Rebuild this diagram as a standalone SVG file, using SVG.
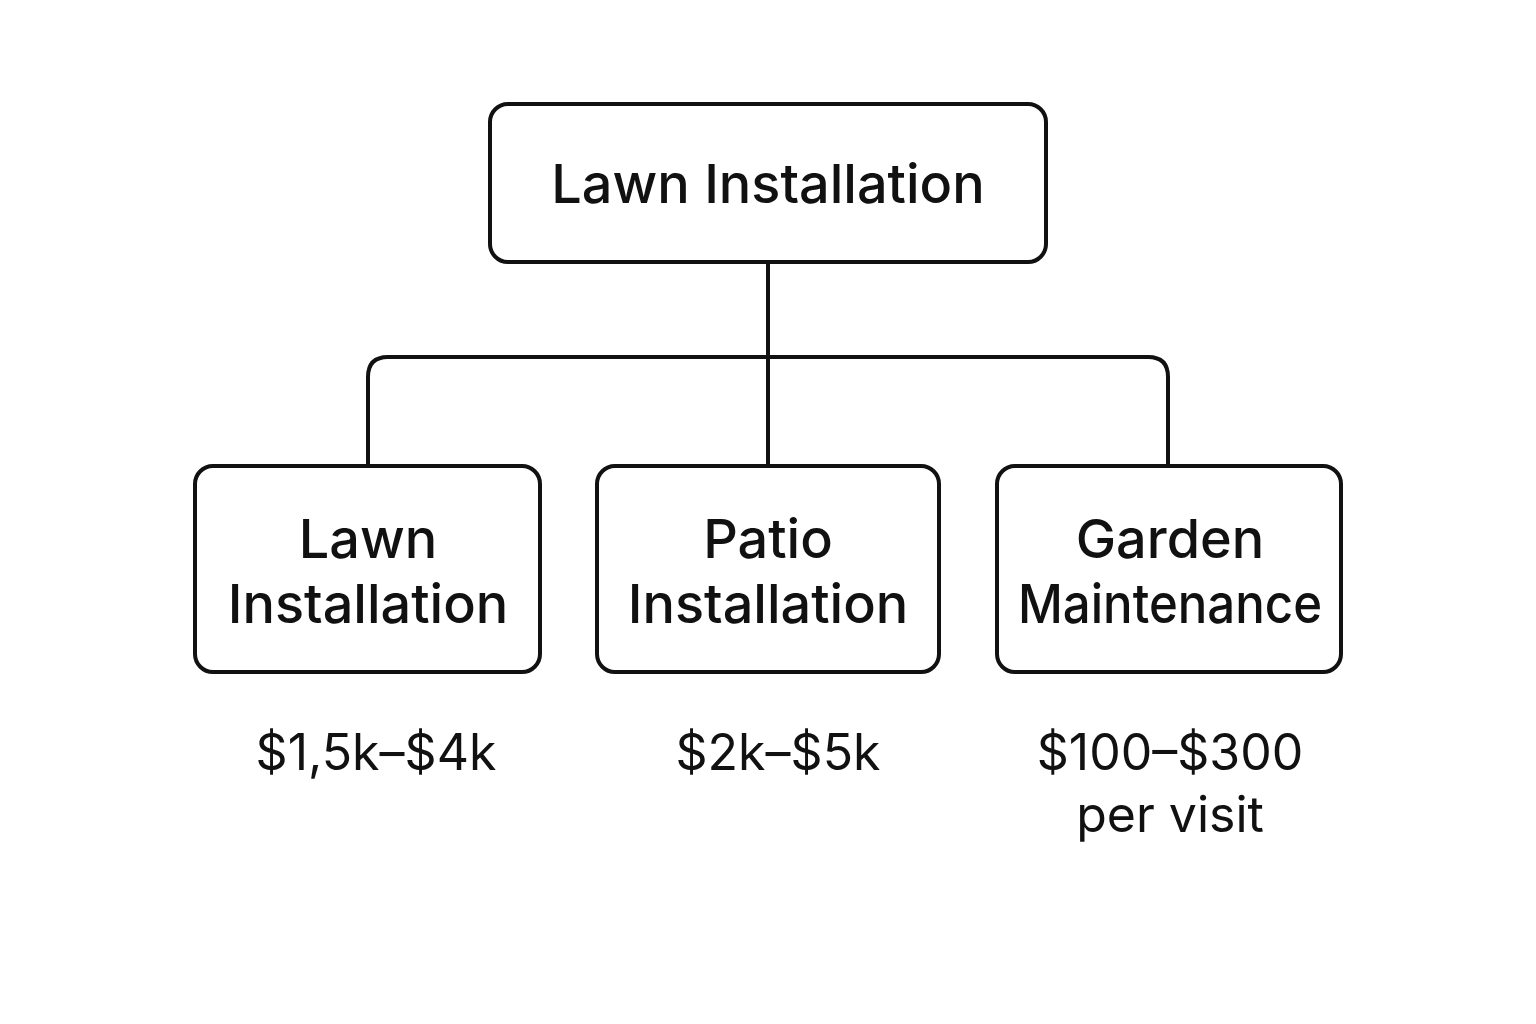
<svg xmlns="http://www.w3.org/2000/svg" width="1536" height="1024" viewBox="0 0 1536 1024">
<style>
.box{fill:#fff;stroke:#111;stroke-width:4}
.t{font-family:Inter,"Liberation Sans",sans-serif;fill:#111;text-anchor:middle}
.n{font-size:54px;font-weight:500}
.p{font-size:50px}
.c{fill:none;stroke:#111;stroke-width:4}
</style>
<rect width="1536" height="1024" fill="#fff"/>
<g id="connectors">
<path class="c" d="M768 262V465M368 465V377Q368 357 388 357H1148Q1168 357 1168 377V465"/>
</g>
<g id="root"><rect class="box" x="490" y="104" width="556" height="158" rx="18"/><text class="t n" x="768" y="203">Lawn Installation</text></g>
<g id="lawn"><rect class="box" x="195" y="466" width="345" height="206" rx="18"/><text class="t n" x="368" y="558">Lawn</text><text class="t n" x="368" y="623">Installation</text></g>
<g id="patio"><rect class="box" x="597" y="466" width="342" height="206" rx="18"/><text class="t n" x="768" y="558">Patio</text><text class="t n" x="768" y="623">Installation</text></g>
<g id="garden"><rect class="box" x="997" y="466" width="344" height="206" rx="18"/><text class="t n" x="1170" y="558">Garden</text><text class="t n" x="1170" y="623" textLength="304" lengthAdjust="spacingAndGlyphs">Maintenance</text></g>
<g id="prices">
<text class="t p" x="376" y="770">$1,5k–$4k</text>
<text class="t p" x="778" y="770">$2k–$5k</text>
<text class="t p" x="1170" y="770">$100–$300</text>
<text class="t p" x="1170" y="832">per visit</text>
</g>
</svg>
